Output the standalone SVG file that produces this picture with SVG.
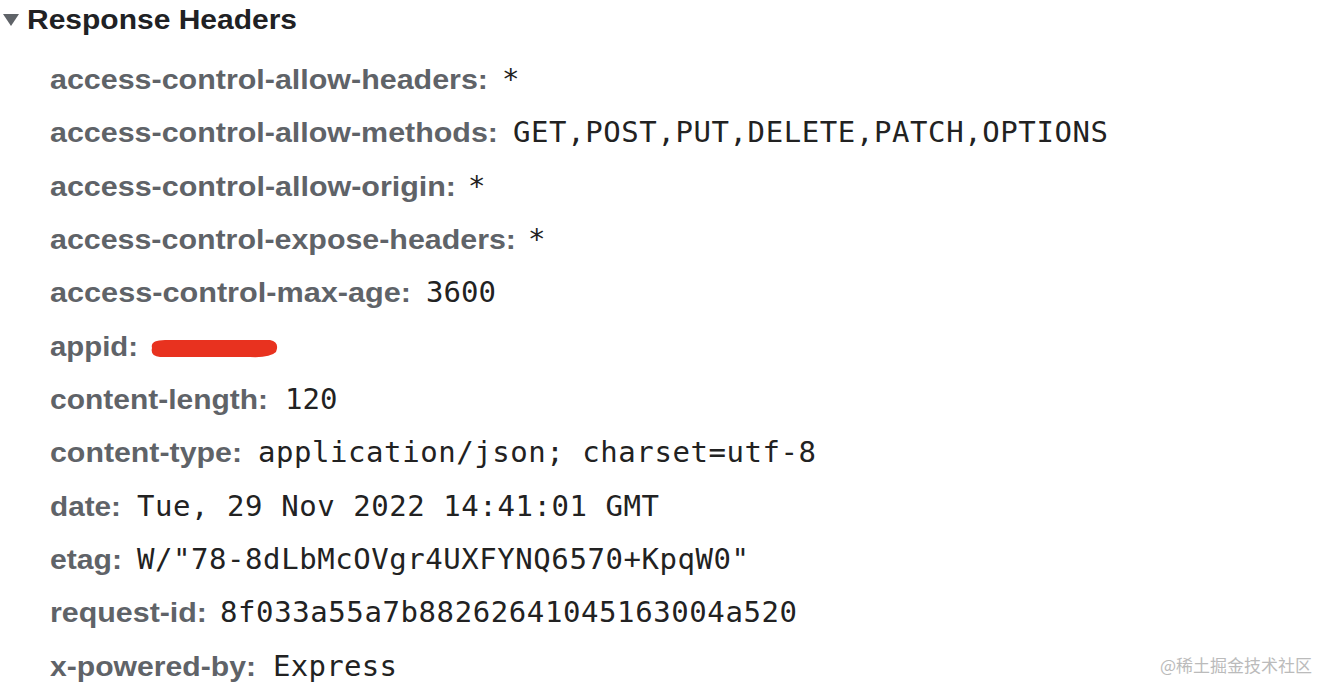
<svg xmlns="http://www.w3.org/2000/svg" width="1342" height="696" viewBox="0 0 1342 696">
<style>
.k{font-family:"Liberation Sans",Arial,sans-serif;font-weight:bold;font-size:27px;fill:#5f6368}
.v{font-family:"DejaVu Sans Mono","Liberation Mono",monospace;font-size:29px;fill:#222}
.t{font-family:"Liberation Sans",Arial,sans-serif;font-weight:bold;font-size:27px;fill:#202124}
.w{font-family:"Noto Sans CJK SC",sans-serif;font-size:17px;fill:#bbb}
</style>
<rect width="1342" height="696" fill="#fff"/>
<path d="M3 14 L19 14 L11 26 Z" fill="#5f6368"/>
<text class="t" x="27" y="29" textLength="270" lengthAdjust="spacingAndGlyphs">Response Headers</text>
<g lengthAdjust="spacingAndGlyphs">
<text class="k" x="50" y="89" textLength="438" lengthAdjust="spacingAndGlyphs">access-control-allow-headers:</text><text class="v" x="502" y="89">*</text>
<text class="k" x="50" y="142" textLength="448" lengthAdjust="spacingAndGlyphs">access-control-allow-methods:</text><text class="v" x="513" y="142" textLength="595">GET,POST,PUT,DELETE,PATCH,OPTIONS</text>
<text class="k" x="50" y="196" textLength="406" lengthAdjust="spacingAndGlyphs">access-control-allow-origin:</text><text class="v" x="468" y="196">*</text>
<text class="k" x="50" y="249" textLength="466" lengthAdjust="spacingAndGlyphs">access-control-expose-headers:</text><text class="v" x="528" y="249">*</text>
<text class="k" x="50" y="302" textLength="361" lengthAdjust="spacingAndGlyphs">access-control-max-age:</text><text class="v" x="426" y="302">3600</text>
<text class="k" x="50" y="356" textLength="88" lengthAdjust="spacingAndGlyphs">appid:</text>
<text class="k" x="50" y="409" textLength="218" lengthAdjust="spacingAndGlyphs">content-length:</text><text class="v" x="285" y="409">120</text>
<text class="k" x="50" y="462" textLength="192" lengthAdjust="spacingAndGlyphs">content-type:</text><text class="v" x="258" y="462" textLength="558">application/json; charset=utf-8</text>
<text class="k" x="50" y="516" textLength="71" lengthAdjust="spacingAndGlyphs">date:</text><text class="v" x="137" y="516" textLength="522">Tue, 29 Nov 2022 14:41:01 GMT</text>
<text class="k" x="50" y="569" textLength="72" lengthAdjust="spacingAndGlyphs">etag:</text><text class="v" x="137" y="569" textLength="612">W/"78-8dLbMcOVgr4UXFYNQ6570+KpqW0"</text>
<text class="k" x="50" y="622" textLength="157" lengthAdjust="spacingAndGlyphs">request-id:</text><text class="v" x="220" y="622" textLength="577">8f033a55a7b88262641045163004a520</text>
<text class="k" x="50" y="676" textLength="206" lengthAdjust="spacingAndGlyphs">x-powered-by:</text><text class="v" x="273" y="676" textLength="124">Express</text>
</g>
<path d="M152 348 Q150 340 165 340 L270 340 Q280 342 276 352 Q270 358 250 357 L160 357 Q150 356 152 348 Z" fill="#e8321f"/>
<text class="w" x="1160" y="672">@稀土掘金技术社区</text>
</svg>
